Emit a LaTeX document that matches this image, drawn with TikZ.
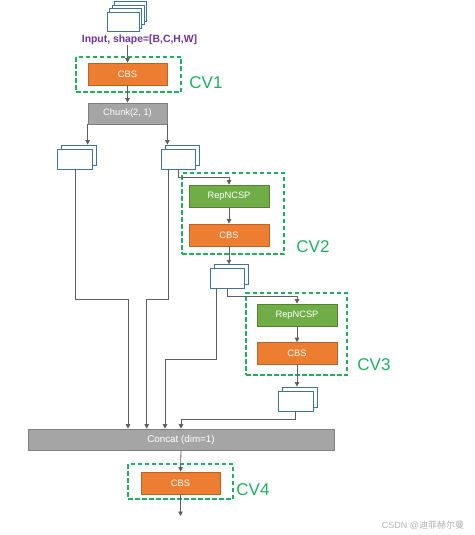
\documentclass[tikz,border=0pt]{standalone}
\usepackage{fontspec}
\setmainfont{Liberation Sans}
\newfontfamily\cjk{Noto Sans CJK SC}
\usepackage{xcolor}
\usepackage{tikz}
\usetikzlibrary{arrows.meta,shadows}

\definecolor{cbsorange}{HTML}{ED7D31}
\definecolor{cbsedge}{HTML}{B9622A}
\definecolor{repgreen}{HTML}{70AD47}
\definecolor{repedge}{HTML}{548235}
\definecolor{chunkgray}{HTML}{A5A5A5}
\definecolor{chunkedge}{HTML}{7F7F7F}
\definecolor{cvgreen}{HTML}{1FAF5F}
\definecolor{featblue}{HTML}{41719C}
\definecolor{linkgray}{HTML}{5F5F5F}
\definecolor{inpurple}{HTML}{7030A0}

\tikzset{
	box/.style={draw, line width=0.7pt, minimum width=79pt, minimum height=22pt, inner sep=0pt, text=white, font=\fontsize{9.3}{11}\selectfont},
	cbs/.style={box, fill=cbsorange, draw=cbsedge},
	rep/.style={box, fill=repgreen, draw=repedge},
	op/.style={box, fill=chunkgray, draw=chunkedge, minimum height=21pt},
	cvbox/.style={draw=cvgreen, line width=1.4pt, dash pattern=on 4.5pt off 2.5pt, inner sep=0pt},
	cvlabel/.style={text=cvgreen, font=\fontsize{17}{20}\selectfont},
	featbase/.style={draw=featblue, fill=white, line width=0.8pt, minimum width=34pt, minimum height=20pt, inner sep=0pt},
	featcopy/.style={copy shadow={draw=featblue, fill=white, line width=0.8pt, #1}},
	feat/.style={featbase, featcopy={shadow xshift=4pt, shadow yshift=4pt}},
	link/.style={draw=linkgray, line width=0.8pt},
	arr/.style={link, -{Triangle[width=4.5pt,length=4.5pt]}}
}

\begin{document}
\begin{tikzpicture}[x=1pt, y=-1pt]
		\useasboundingbox (0, 0) rectangle (474, 535);

		\node[featbase, minimum width=32pt, minimum height=19.4pt, featcopy={shadow xshift=7.5pt, shadow yshift=10.5pt}, featcopy={shadow xshift=5pt, shadow yshift=7pt}, featcopy={shadow xshift=2.5pt, shadow yshift=3.5pt}] (inp) at (123.3, 22) {};
		\node (inptext) at (139.5, 40) [inner sep=0pt, text=inpurple, font=\bfseries\fontsize{10.4}{12}\selectfont] {Input, shape=[B,C,H,W]};

		\node[cvbox, minimum width=105pt, minimum height=35pt] (cv1) at (128.5, 74.5) {};
		\node[cbs] (cbs1) at (127.5, 74) {CBS};
		\node[cvlabel] (cv1label) at (206, 83) {CV1};
		\node[op] (chunk) at (127.5, 113.5) {Chunk(2, 1)};

		\node[feat, minimum width=35pt] (stackL) at (75.2, 159) {};
		\node[feat] (stackR) at (178, 159) {};

		\node[cvbox, minimum width=102pt, minimum height=81pt] (cv2) at (233, 213.5) {};
		\node[rep, minimum width=80pt] (rep2) at (229, 196) {RepNCSP};
		\node[cbs, minimum width=80pt] (cbs2) at (229, 235) {CBS};
		\node[cvlabel] (cv2label) at (313, 247) {CV2};

		\node[feat, minimum height=19.5pt] (stackM) at (227, 278.5) {};

		\node[cvbox, minimum width=101pt, minimum height=82pt] (cv3) at (296.5, 334) {};
		\node[rep, minimum width=80pt] (rep3) at (297, 315) {RepNCSP};
		\node[cbs, minimum width=80pt] (cbs3) at (297, 353.5) {CBS};
		\node[cvlabel] (cv3label) at (374, 365) {CV3};

		\node[feat, minimum width=35pt] (stackB) at (295.5, 401) {};

		\node[op, minimum width=306pt, font=\fontsize{9.8}{12}\selectfont] (concat) at (181, 439.5) {Concat (dim=1)};

		\node[cvbox, minimum width=105pt, minimum height=35pt] (cv4) at (180.5, 481.5) {};
		\node[cbs] (cbs4) at (180.5, 483) {CBS};
		\node[cvlabel] (cv4label) at (253, 490) {CV4};
		\coordinate (out) at (180.5, 516);

		\node (mark) at (423, 525) [text=black!30, font=\fontsize{9}{11}\selectfont] {CSDN @{\cjk 迪菲赫尔曼}};

		\draw[arr] (cbs1.north |- inptext.south) -- (cbs1.north);
		\draw[arr] (cbs1.south) -- (chunk.north);
		\draw[arr] (chunk.south west) -- ([yshift=4pt]stackL.north -| chunk.south west);
		\draw[arr] (chunk.south east) -- ([yshift=4pt]stackR.north -| chunk.south east);

		\draw[arr] (stackL.south) -- ++(0, 130) -| ([xshift=-53pt]concat.north);
		\draw[arr] ([xshift=-10pt]stackR.south) -- ++(0, 130) -| ([xshift=-34.3pt]concat.north);
		\draw[arr] (stackR.south) -- ++(0, 8) -| (rep2.north);
		\draw[arr] (rep2.south) -- (cbs2.north);
		\draw[arr] (cbs2.south) -- ([yshift=4pt]stackM.north -| cbs2.south);

		\draw[arr] ([xshift=-11pt]stackM.south) -- ++(0, 70.5) -| ([xshift=-16pt]concat.north);
		\draw[arr] (stackM.south) -- ++(0, 7.5) -| (rep3.north);
		\draw[arr] (rep3.south) -- (cbs3.north);
		\draw[arr] (cbs3.south) -- ([yshift=4pt]stackB.north -| cbs3.south);

		\draw[arr] (stackB.south) -- ++(0, 8) -| (concat.north);
		\draw[arr] (concat.south) -- (cbs4.north);
		\draw[arr] (cbs4.south) -- (out);
	\end{tikzpicture}
\end{document}
